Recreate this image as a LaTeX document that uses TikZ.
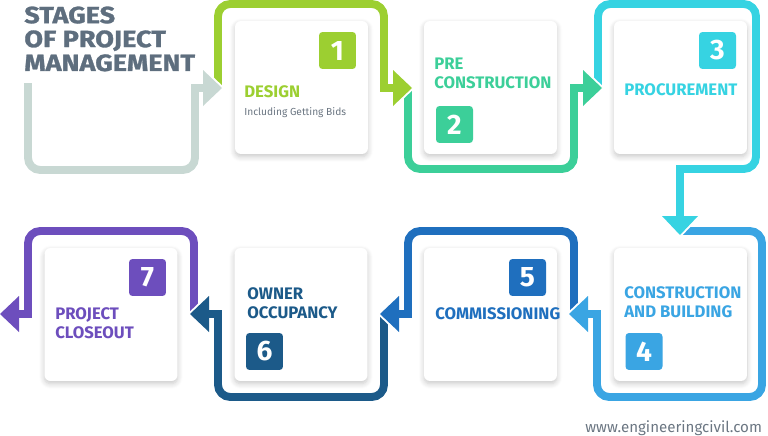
\documentclass[tikz,border=0pt]{standalone}
\usepackage{fontspec}
\setmainfont{Fira Sans}
\newfontfamily\headfont{Fira Sans}
\newfontfamily\titlefont{Fira Sans}[FakeStretch=1.15,BoldFeatures={FakeBold=1.2}]
\usetikzlibrary{shadows.blur}

\definecolor{stagegray}{HTML}{C8D8D3}
\definecolor{stagetitle}{HTML}{5E6E7E}
\definecolor{stagegreen}{HTML}{9CCF31}
\definecolor{stageteal}{HTML}{3CCF99}
\definecolor{stagecyan}{HTML}{36D3E2}
\definecolor{stagesky}{HTML}{3AA5E3}
\definecolor{stageblue}{HTML}{1F6FBE}
\definecolor{stagenavy}{HTML}{1C5A89}
\definecolor{stagepurple}{HTML}{6D4EBD}
\definecolor{stagetext}{HTML}{6B7682}

\begin{document}
\begin{tikzpicture}
  [
    x=0.02cm, y=-0.02cm,
    card/.style={
      fill=white,
      rounded corners=3.4pt,
      blur shadow={shadow blur steps=6,shadow xshift=0pt,shadow yshift=-1.5pt,
        shadow blur radius=3pt,shadow opacity=22},
      minimum width=2.66cm,
      minimum height=2.66cm,
      inner sep=0
    },
    badge/.style={
      rounded corners=2pt,
      minimum size=0.74cm,
      inner sep=0,
      text=white,
      font=\headfont\bfseries\fontsize{16}{16}\selectfont
    },
    stage/.style={
      anchor=base west,
      inner sep=0,
      align=left,
      font=\headfont\bfseries\fontsize{9.5}{10.8}\selectfont
    },
    flow/.style={
      line width=4.5pt,
      rounded corners=7pt
    },
    pics/head/.style={
      code={
        \draw [white,line width=2.2pt,line join=round] (-20,-19) -- (0,0) -- (-20,19);
        \fill [#1] (-19,-18) -- (0,0) -- (-19,18) -- cycle;
      }
    }
  ]

  \useasboundingbox (0,0) rectangle (768,436);

  % title
  \node [anchor=base west,inner sep=0,align=left,text=stagetitle,
    font=\titlefont\bfseries\fontsize{13.4}{13.6}\selectfont]
    (title) at (24,71) {STAGES\\OF PROJECT\\MANAGEMENT};

  % cards
  \foreach \n/\cx/\cy in {1/301.5/87.5,2/490.5/87.5,3/680.5/87.5,
      4/680.5/314.5,5/490.5/314.5,6/301/314.5,7/111/314.5} {
    \node [card] (card\n) at (\cx,\cy) {};
  }

  % loops
  \draw [flow,stagegray] (28,83) -- (28,170) -- (195,170)
    [sharp corners] -- (195,88) -- (205,88);
  \draw [flow,stagegreen] (218,88) -- (218,4) -- (384,4)
    [sharp corners] -- (384,88) -- (395,88);
  \draw [flow,stageteal] (408,88) -- (408,169) -- (574,169)
    [sharp corners] -- (574,88) -- (585,88);
  \draw [flow,stagecyan] (598,88) -- (598,4) -- (756,4) -- (756,169)
    [sharp corners] -- (680,169) -- (680,218);
  \draw [flow,stagesky] (680,231) -- (762,231) -- (762,397) -- (597,397)
    [sharp corners] -- (597,314) -- (587,314);
  \draw [flow,stageblue] (574,314) -- (574,231) -- (408,231)
    [sharp corners] -- (408,314) -- (398,314);
  \draw [flow,stagenavy] (384,314) -- (384,397) -- (218,397)
    [sharp corners] -- (218,314) -- (208,314);
  \draw [flow,stagepurple] (194,314) -- (194,231) -- (28,231)
    [sharp corners] -- (28,314) -- (18,314);

  \foreach \hx/\hy/\turn/\col in {222/88/0/stagegray,412/88/0/stagegreen,
      602/88/0/stageteal,680/235/-90/stagecyan,569/314/180/stagesky,
      380/314/180/stageblue,190/314/180/stagenavy,0/314/180/stagepurple} {
    \pic [rotate=\turn] at (\hx,\hy) {head=\col};
  }

  % numbers
  \node [badge,fill=stagegreen] (num1) at (337.5,50.5) {1};
  \node [badge,fill=stageteal] (num2) at (454.5,124.5) {2};
  \node [badge,fill=stagecyan] (num3) at (717.5,50.5) {3};
  \node [badge,fill=stagesky] (num4) at (644,351.5) {4};
  \node [badge,fill=stageblue] (num5) at (527.5,277.5) {5};
  \node [badge,fill=stagenavy] (num6) at (264.5,351.5) {6};
  \node [badge,fill=stagepurple] (num7) at (147.5,277.5) {7};

  % labels
  \node [stage,text=stagegreen] (design) at (244,97) {DESIGN};
  \node [anchor=base west,inner sep=0,text=stagetext,
    font=\fontsize{5.8}{7}\selectfont] (bids) at (244,115) {Including Getting Bids};
  \node [stage,text=stageteal] (precon) at (434,88) {PRE\\CONSTRUCTION};
  \node [stage,text=stagecyan] (procure) at (624,95) {PROCUREMENT};
  \node [stage,text=stagesky] (build) at (624,317) {CONSTRUCTION\\AND BUILDING};
  \node [stage,text=stageblue] (commission) at (435,319) {COMMISSIONING};
  \node [stage,text=stagenavy] (owner) at (247,318) {OWNER\\OCCUPANCY};
  \node [stage,text=stagepurple] (closeout) at (55,338) {PROJECT\\CLOSEOUT};

  \node [anchor=base west,inner sep=0,text=stagetext,
    font=\fontsize{8.6}{9}\selectfont] (site) at (585,432) {www.engineeringcivil.com};

\end{tikzpicture}
\end{document}
